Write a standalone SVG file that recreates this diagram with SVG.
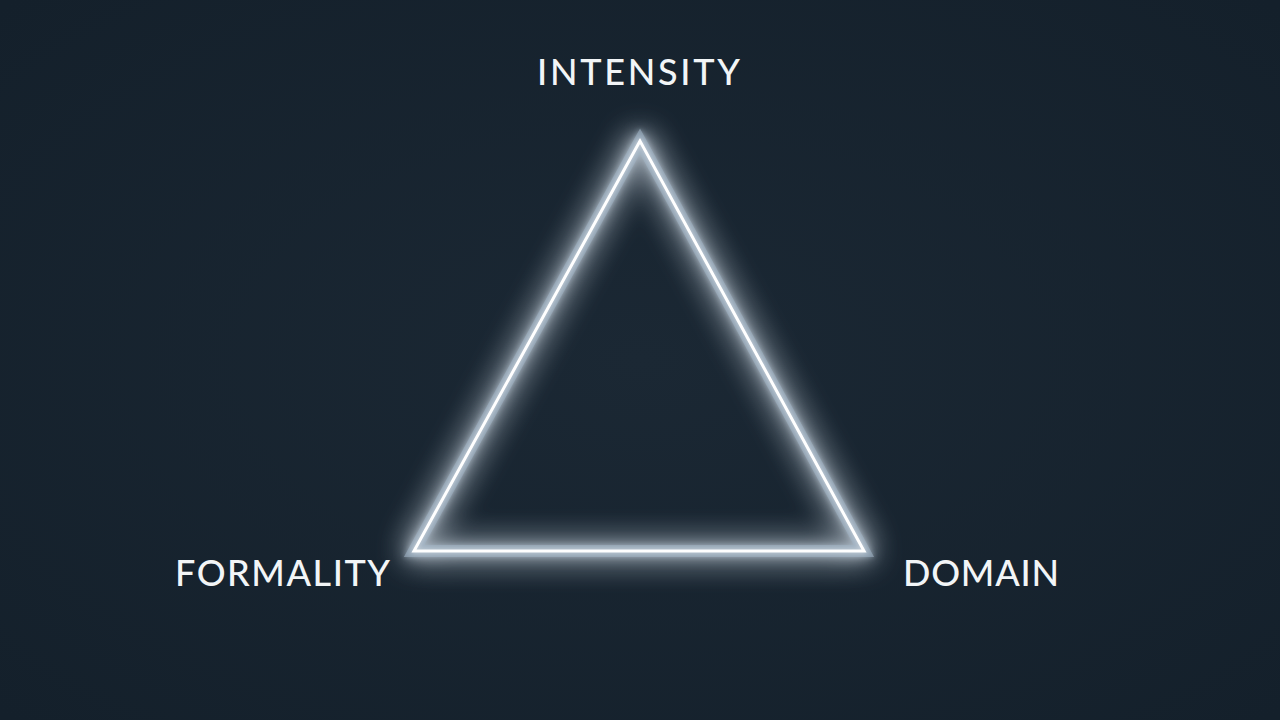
<svg xmlns="http://www.w3.org/2000/svg" width="1280" height="720" viewBox="0 0 1280 720">
  <defs>
    <radialGradient id="bg" cx="50%" cy="50%" r="70%">
      <stop offset="0" stop-color="#1b2834"/>
      <stop offset="1" stop-color="#14202b"/>
    </radialGradient>
    <filter id="glow" x="-40%" y="-40%" width="180%" height="180%">
      <feGaussianBlur in="SourceGraphic" stdDeviation="16" result="b0"/>
      <feGaussianBlur in="SourceGraphic" stdDeviation="7" result="b1"/>
      <feGaussianBlur in="SourceGraphic" stdDeviation="2.5" result="b2"/>
      <feMerge>
        <feMergeNode in="b0"/>
        <feMergeNode in="b0"/>
        <feMergeNode in="b1"/>
        <feMergeNode in="b2"/>
        <feMergeNode in="SourceGraphic"/>
      </feMerge>
    </filter>
    <style>
      .lbl { font-family: Lato, "Open Sans", "Liberation Sans", sans-serif; font-size: 36px; font-weight: 500; fill: #f2f5f7; }
      .edge { fill: none; stroke: #ffffff; stroke-width: 3; stroke-linejoin: miter; }
      .halo { fill: none; stroke: #9fb3c4; stroke-width: 12; opacity: 0.55; }
    </style>
  </defs>
  <rect width="1280" height="720" fill="url(#bg)"/>
  <g id="connectors" filter="url(#glow)">
    <polygon class="halo" points="640,141 414,551 864,551"/>
    <polygon class="edge" points="640,141 414,551 864,551"/>
  </g>
  <g id="node-intensity">
    <text class="lbl" x="537" y="85" textLength="203" lengthAdjust="spacing">INTENSITY</text>
  </g>
  <g id="node-formality">
    <text class="lbl" x="175" y="586" textLength="215" lengthAdjust="spacing">FORMALITY</text>
  </g>
  <g id="node-domain">
    <text class="lbl" x="903" y="586" textLength="156" lengthAdjust="spacing">DOMAIN</text>
  </g>
</svg>
